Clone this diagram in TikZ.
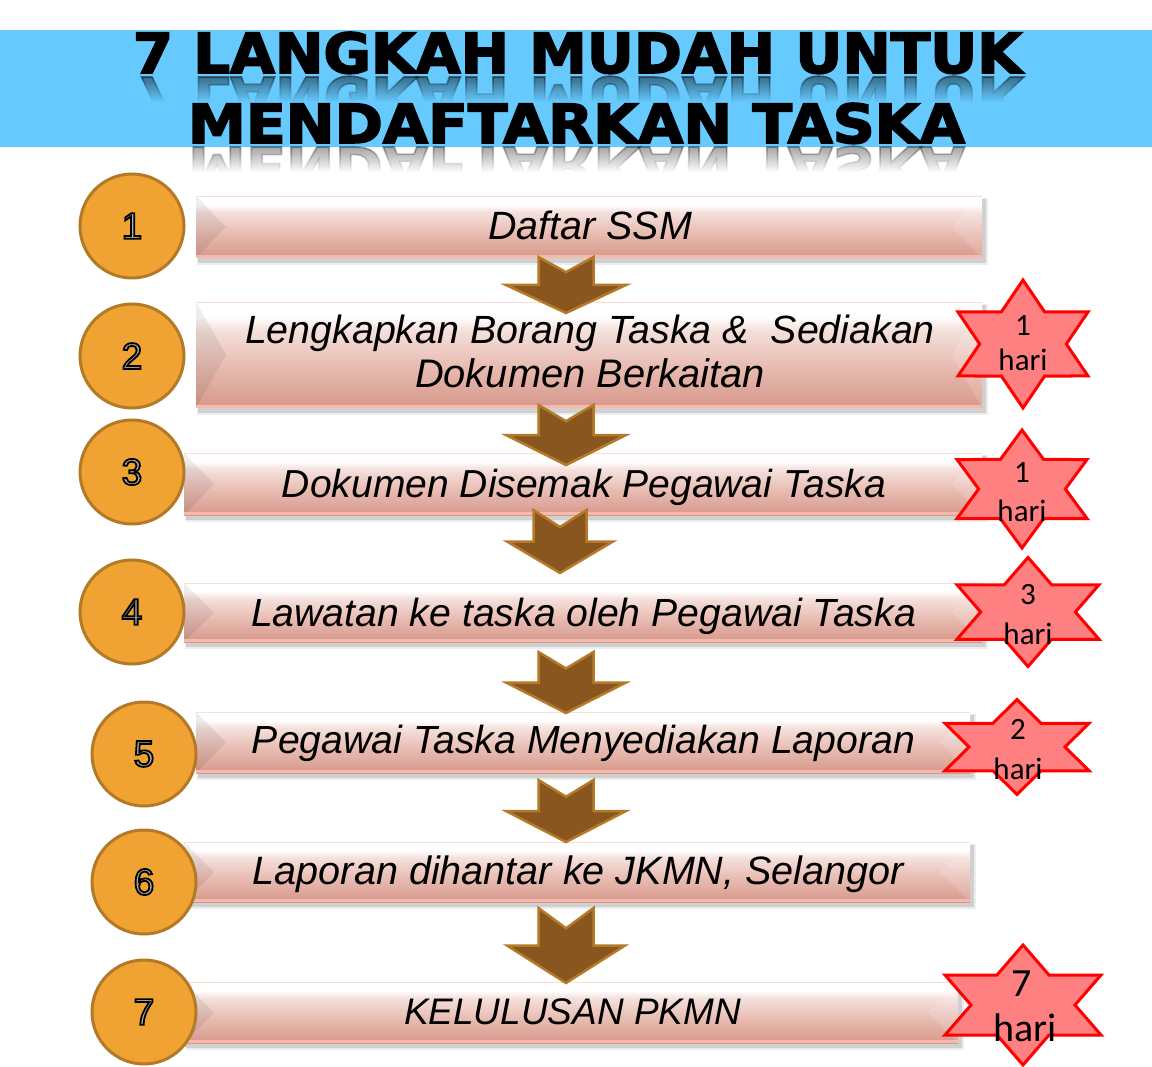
\documentclass[tikz,border=0pt]{standalone}
\usepackage{fontspec}
\setmainfont{Liberation Sans}
\newfontfamily\carl{Carlito}
\newfontfamily\titlefont[FakeBold=3]{DejaVu Sans Bold}
\usetikzlibrary{fadings}
\definecolor{band}{RGB}{102,202,255}
\definecolor{barbot}{RGB}{214,152,138}
\definecolor{barmid}{RGB}{232,188,178}
\definecolor{barline}{RGB}{246,186,172}
\definecolor{circfill}{RGB}{240,162,50}
\definecolor{circdraw}{RGB}{178,122,38}
\definecolor{arrfill}{RGB}{138,86,32}
\definecolor{arrdraw}{RGB}{180,122,40}
\definecolor{starfill}{RGB}{255,128,128}
\definecolor{stardraw}{RGB}{255,0,0}
\pgfdeclareverticalshading{barshade}{100bp}{color(0bp)=(barbot); color(25bp)=(barbot); color(45bp)=(barmid); color(62bp)=(barmid!45!white); color(68bp)=(white); color(100bp)=(white)}
\newcommand\engr[1]{\textcolor{black!30}{\special{pdf:literal direct 0 G 2 Tr 1.8 w}#1\special{pdf:literal direct 0 Tr}}}
\newcommand\mkbar[5]{%
  \fill[black, opacity=0.12] (#2+2,#3+3) rectangle (#4+4,#5+5);
  \fill[black, opacity=0.07] (#2+1,#3+2) rectangle (#4+6,#5+7);
  \node[barnode, anchor=north west, minimum width=#4-#2, minimum height=#5-#3] (#1) at (#2,#3) {};
  \fill[black, opacity=0.07] (#1.north west) -- ([xshift=30pt]#1.west) -- (#1.south west) -- cycle;
  \fill[white, opacity=0.15] (#1.north east) -- ([xshift=-30pt]#1.east) -- (#1.south east) -- cycle;
  \fill[barline] (#1.south west) rectangle ([yshift=3pt]#1.south east);
  \draw[barline!50, line width=0.8pt] (#1.north west) -- (#1.north east);
}
\newcommand\darrow[5]{%
  \pgfmathsetmacro\nt{#2+0.27*(#3-#2)}%
  \pgfmathsetmacro\wy{#2+0.5*(#3-#2)}%
  \draw[arrsty] (#1-#4,#2) -- (#1,\nt) -- (#1+#4,#2) -- (#1+#4,\wy) -- (#1+#5,\wy) -- (#1,#3) -- (#1-#5,\wy) -- (#1-#4,\wy) -- cycle;
}
\newcommand\mkstar[4]{%
  \pgfmathsetmacro\rr{#4/1.732}%
  \pgfmathsetmacro\ss{#3/(0.866*#4)}%
  \begin{scope}[shift={(#1,#2)}, xscale=\ss]
    \draw[starsty] (90:#4) -- (120:\rr) -- (150:#4) -- (180:\rr) -- (210:#4) -- (240:\rr) -- (270:#4) -- (300:\rr) -- (330:#4) -- (0:\rr) -- (30:#4) -- (60:\rr) -- cycle;
  \end{scope}
}
\begin{document}
\begin{tikzpicture}[x=1pt,y=-1pt,
  barnode/.style={shade, shading=barshade, inner sep=0, outer sep=0, rectangle, draw=none},
  bartext/.style={anchor=base, inner sep=0, font=\itshape\fontsize{36}{40}\selectfont},
  circ/.style={circle, fill=circfill, draw=circdraw, line width=3pt, minimum size=104pt, inner sep=0, font=\fontsize{37}{40}\selectfont},
  arrsty/.style={fill=arrfill, draw=arrdraw, line width=2.5pt, line join=miter},
  starsty/.style={fill=starfill, draw=stardraw, line width=3pt, line join=miter},
  startext/.style={anchor=base, inner sep=0, font=\carl\fontsize{31}{33}\selectfont},
  bigstartext/.style={anchor=base, inner sep=0, font=\carl\fontsize{40}{42}\selectfont},
  ttl/.style={anchor=base, inner sep=0, font=\titlefont}]
\useasboundingbox (0,0) rectangle (1152,1067);
\fill[white] (0,0) rectangle (1152,1067);
% title band
\fill[band] (0,30) rectangle (1152,147);
\begin{scope}
  \clip (0,74) rectangle (1152,102);
  \node[anchor=north, inner sep=0, font=\titlefont, text=black, text opacity=0.5] (r1) at (577.5,76) {\scalebox{1}[-1]{\resizebox{889pt}{41pt}{7 LANGKAH MUDAH UNTUK}}};
  \fill[band, path fading=north] (0,74) rectangle (1152,102);
\end{scope}
\begin{scope}
  \clip (0,144) rectangle (1152,172);
  \node[anchor=north, inner sep=0, font=\titlefont, text=black, text opacity=0.35] (r2) at (576.5,146) {\scalebox{1}[-1]{\resizebox{777pt}{40pt}{MENDAFTARKAN TASKA}}};
  \fill[white, path fading=north] (0,147) rectangle (1152,172);
\end{scope}
\node[ttl] (title1) at (577.5,73) {\resizebox{889pt}{41pt}{7 LANGKAH MUDAH UNTUK}};
\node[ttl] (title2) at (576.5,143) {\resizebox{777pt}{40pt}{MENDAFTARKAN TASKA}};
% bars
\mkbar{b1}{196}{196}{982}{258}
\mkbar{b2}{196}{302}{982}{408}
\mkbar{b3}{184}{453}{982}{515}
\mkbar{b4}{184}{583}{982}{642}
\mkbar{b5}{196}{712}{970}{773}
\mkbar{b6}{184}{842}{970}{902}
\mkbar{b7}{184}{982}{958}{1043}
% arrows
\darrow{566}{257}{313}{27.5}{60}
\darrow{566}{405}{465}{27.5}{60}
\darrow{560}{510}{573}{26.5}{53}
\darrow{566}{652}{713}{27.5}{60}
\darrow{566}{780}{842}{27.5}{60}
\darrow{566}{908}{983}{27.5}{59}
% bar texts
\node[bartext] (t1) at (590,240) {\resizebox{204pt}{!}{Daftar SSM}};
\node[bartext] (t2a) at (590,344) {\resizebox{690pt}{!}{Lengkapkan Borang Taska \&\ \ Sediakan}};
\node[bartext] (t2b) at (590,388) {\resizebox{350pt}{!}{Dokumen Berkaitan}};
\node[bartext] (t3) at (584,497) {\resizebox{604pt}{!}{Dokumen Disemak Pegawai Taska}};
\node[bartext] (t4) at (583.5,626) {\resizebox{665pt}{!}{Lawatan ke taska oleh Pegawai Taska}};
\node[bartext] (t5) at (583.5,753) {\resizebox{663pt}{!}{Pegawai Taska Menyediakan Laporan}};
\node[bartext] (t6) at (578.5,884) {\resizebox{651pt}{!}{Laporan dihantar ke JKMN, Selangor}};
\node[bartext] (t7) at (572.5,1024) {\resizebox{337pt}{!}{KELULUSAN PKMN}};
% circles
\node[circ] (c1) at (132,226) {\engr{1}};
\node[circ] (c2) at (132,356) {\engr{2}};
\node[circ] (c3) at (132,472) {\engr{3}};
\node[circ] (c4) at (132,612) {\engr{4}};
\node[circ] (c5) at (144,754) {\engr{5}};
\node[circ] (c6) at (144,882) {\engr{6}};
\node[circ] (c7) at (144,1012) {\engr{7}};
% stars
\mkstar{1023}{344}{65}{64}
\mkstar{1022}{489}{65}{59}
\mkstar{1028}{612}{71}{54.5}
\mkstar{1017}{747}{72}{47.5}
\mkstar{1023}{1005}{78}{60}
\node[startext] (s1n) at (1023,336) {1};
\node[startext] (s1h) at (1023,371) {hari};
\node[startext] (s2n) at (1022,482) {1};
\node[startext] (s2h) at (1022,521) {hari};
\node[startext] (s3n) at (1028,604) {3};
\node[startext] (s3h) at (1028,644) {hari};
\node[startext] (s4n) at (1018,739) {2};
\node[startext] (s4h) at (1018,779) {hari};
\node[bigstartext] (s5n) at (1022,996) {7};
\node[bigstartext] (s5h) at (1025,1041) {hari};
\end{tikzpicture}
\end{document}
